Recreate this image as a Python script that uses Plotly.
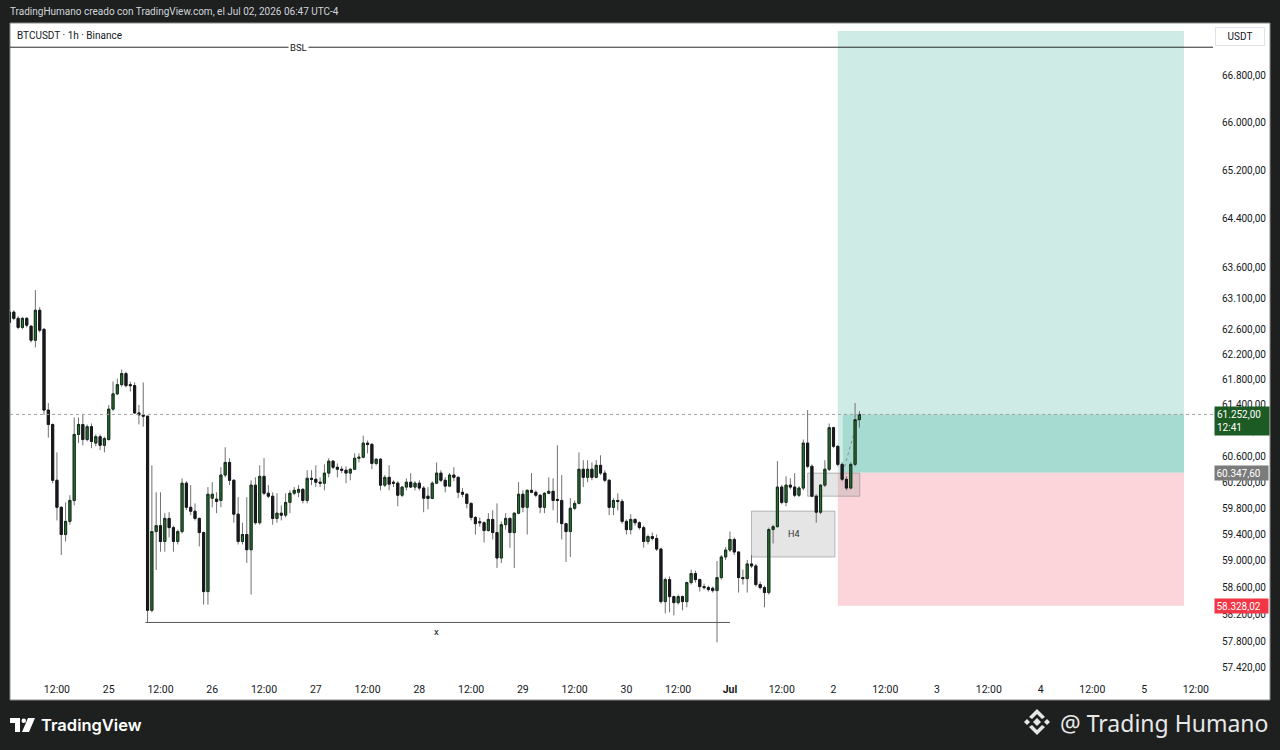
import math
import pandas as pd
import plotly.graph_objects as go

# ---------------- data ----------------
start_time = "2026-06-24 01:00"

O = [62710, 62875, 62775, 62630, 62775, 62650, 62425, 62905, 62600, 61320,
     61095, 60230, 59815, 59400, 59600, 59920, 60940, 61095, 60860, 61060,
     60805, 60905, 60770, 60860, 61335, 61575, 61720, 61895, 61720, 61705,
     61275, 61245, 61225, 58260, 59445, 59535, 59295, 59645, 59505, 59295,
     59445, 60185, 59815, 59755, 59645, 59430, 58540, 59955, 59940, 59920,
     60310, 60505, 60230, 59710, 59295, 59400, 59170, 60155, 59580, 60290,
     60030, 59985, 59645, 59725, 59695, 59890, 60030, 60045, 60090, 59920,
     60260, 60245, 60200, 60185, 60340, 60525, 60430, 60400, 60385, 60340,
     60400, 60570, 60585, 60805, 60785, 60490, 60555, 60155, 60275, 60200,
     60185, 60000, 60125, 60200, 60125, 60185, 60110, 59985, 59950, 60185,
     60340, 60230, 60140, 60310, 60275, 60045, 60015, 59875, 59660, 59595,
     59580, 59460, 59630, 59430, 59045, 59550, 59645, 59430, 59725, 60015,
     59815, 60075, 60045, 60000, 59815, 60030, 60060, 59935, 59920, 59565,
     59445, 59800, 59875, 60400, 60275, 60400, 60275, 60460, 60340, 60230,
     59815, 59920, 59905, 59600, 59475, 59630, 59580, 59505, 59295, 59370,
     59340, 59180, 58390, 58720, 58465, 58375, 58465, 58390, 58675, 58810,
     58720, 58615, 58600, 58590, 58555, 58750, 59060, 59165, 59325, 59135,
     58750, 58735, 58955, 58925, 58645, 58600, 58525, 59475, 59520, 60125,
     59890, 60155, 60125, 60000, 60110, 60805, 60445, 59985, 59740, 60155,
     60400, 61045, 60755, 60475, 60245, 60110, 60475, 61170]

H = [63035, 62905, 62810, 62795, 62795, 62665, 63230, 62955, 62615, 61430,
     61110, 60660, 59830, 59890, 60000, 61205, 61205, 61250, 61095, 61110,
     60940, 60940, 60905, 61400, 61770, 61815, 61960, 61925, 61770, 61755,
     61400, 61755, 61230, 60460, 60045, 60045, 59725, 59740, 59535, 59475,
     60260, 60215, 60155, 59875, 59660, 59445, 60125, 60200, 60045, 60430,
     60740, 60570, 60245, 59970, 59580, 59970, 60230, 60275, 60460, 60570,
     60155, 60045, 60030, 59845, 60030, 60075, 60125, 60155, 60110, 60385,
     60385, 60460, 60275, 60475, 60570, 60540, 60490, 60445, 60445, 60415,
     60645, 60645, 60920, 60845, 60805, 60570, 60570, 60310, 60460, 60230,
     60215, 60140, 60260, 60340, 60215, 60230, 60140, 60125, 60215, 60505,
     60385, 60275, 60340, 60430, 60290, 60110, 60030, 59890, 59680, 59660,
     59600, 59725, 59770, 59875, 59600, 59725, 59660, 59740, 60200, 60075,
     60090, 60340, 60075, 60015, 60045, 60275, 60260, 60770, 60310, 59580,
     59955, 59920, 60660, 60540, 60540, 60505, 60540, 60615, 60385, 60245,
     59955, 60030, 59940, 59630, 59710, 59645, 59600, 59535, 59400, 59430,
     59400, 59200, 58750, 58765, 58480, 58495, 58480, 58690, 58870, 58855,
     58735, 58660, 58630, 58615, 59000, 59090, 59210, 59445, 59355, 59150,
     58870, 59015, 59090, 58955, 58690, 58630, 59505, 59550, 60525, 60155,
     60290, 60260, 60340, 60140, 60860, 61320, 60475, 60015, 60170, 60540,
     61110, 61060, 60770, 60505, 60290, 60505, 61430, 61305]

L = [62695, 62745, 62600, 62600, 62630, 62390, 62310, 62550, 61245, 60890,
     60185, 59615, 59090, 59295, 59550, 59845, 60805, 60770, 60830, 60725,
     60755, 60695, 60660, 60845, 61305, 61555, 61690, 61675, 61610, 61260,
     61095, 61060, 58080, 58230, 58865, 59140, 59140, 59355, 59140, 59250,
     59415, 59770, 59695, 59615, 59220, 58345, 58345, 59815, 59725, 59815,
     60275, 60155, 59580, 59250, 59250, 58970, 58495, 59550, 59550, 60000,
     59955, 59550, 59580, 59615, 59660, 59725, 60000, 59970, 59875, 59875,
     60155, 60125, 60125, 60075, 60275, 60400, 60275, 60340, 60185, 60230,
     60385, 60505, 60570, 60645, 60400, 60460, 60075, 60125, 60075, 60125,
     59830, 59970, 60075, 60110, 60075, 60075, 59740, 59785, 59940, 60170,
     60200, 60045, 60125, 60215, 59955, 59970, 59800, 59615, 59400, 59520,
     59280, 59445, 59325, 58895, 58970, 59475, 59200, 58895, 59710, 59740,
     59400, 60030, 59970, 59725, 59725, 60015, 59770, 59580, 59325, 58985,
     59060, 59770, 59860, 60125, 60200, 60230, 60260, 60310, 60200, 59695,
     59695, 59770, 59565, 59400, 59400, 59535, 59475, 59200, 59250, 59310,
     59150, 58360, 58215, 58230, 58185, 58345, 58260, 58305, 58645, 58675,
     58540, 58570, 58540, 58525, 57785, 58720, 59015, 59135, 59090, 58525,
     58645, 58525, 58895, 58615, 58570, 58305, 58495, 59265, 59505, 59860,
     59830, 60090, 59970, 59970, 60075, 60415, 59970, 59580, 59710, 60125,
     60370, 60725, 60445, 60215, 60075, 60090, 60445, 61045]

C = [62875, 62775, 62630, 62775, 62665, 62425, 62905, 62585, 61320, 61095,
     60230, 59815, 59400, 59600, 59920, 60940, 61095, 60860, 61060, 60830,
     60905, 60770, 60875, 61335, 61575, 61720, 61895, 61705, 61705, 61275,
     61245, 61225, 58260, 59445, 59535, 59295, 59645, 59505, 59295, 59445,
     60185, 59815, 59755, 59645, 59430, 58540, 60015, 60015, 59905, 60310,
     60505, 60230, 59710, 59295, 59400, 59170, 60155, 59580, 60290, 60030,
     59985, 59645, 59725, 59695, 59890, 60030, 60075, 60090, 59920, 60260,
     60245, 60200, 60185, 60340, 60525, 60430, 60400, 60385, 60340, 60400,
     60570, 60585, 60805, 60785, 60490, 60555, 60155, 60275, 60170, 60185,
     60000, 60125, 60200, 60125, 60185, 60110, 59955, 59950, 60185, 60340,
     60230, 60140, 60310, 60275, 60045, 60015, 59875, 59660, 59565, 59580,
     59460, 59630, 59430, 59045, 59550, 59645, 59430, 59725, 60015, 59815,
     60075, 60045, 60000, 59815, 60030, 60060, 59920, 59920, 59565, 59445,
     59800, 59875, 60400, 60275, 60400, 60275, 60460, 60340, 60230, 59815,
     59920, 59905, 59600, 59475, 59630, 59580, 59505, 59295, 59370, 59340,
     59180, 58390, 58720, 58465, 58375, 58465, 58390, 58675, 58810, 58720,
     58615, 58600, 58570, 58555, 58750, 59060, 59165, 59325, 59135, 58750,
     58735, 58955, 58925, 58645, 58600, 58525, 59475, 59520, 60125, 59890,
     60155, 60125, 60000, 60110, 60805, 60445, 59985, 59740, 60155, 60400,
     61045, 60755, 60475, 60245, 60110, 60475, 61170, 61252]

x_tickvals = ["2026-06-24 12:00", "2026-06-25", "2026-06-25 12:00", "2026-06-26",
              "2026-06-26 12:00", "2026-06-27", "2026-06-27 12:00", "2026-06-28",
              "2026-06-28 12:00", "2026-06-29", "2026-06-29 12:00", "2026-06-30",
              "2026-06-30 12:00", "2026-07-01", "2026-07-01 12:00", "2026-07-02",
              "2026-07-02 12:00", "2026-07-03", "2026-07-03 12:00", "2026-07-04",
              "2026-07-04 12:00", "2026-07-05", "2026-07-05 12:00"]
x_ticktext = ["12:00", "25", "12:00", "26", "12:00", "27", "12:00", "28",
              "12:00", "29", "12:00", "30", "12:00", "<b>Jul</b>", "12:00", "2",
              "12:00", "3", "12:00", "4", "12:00", "5", "12:00"]
y_tickvals = [66800, 66000, 65200, 64400, 63600, 63100, 62600, 62200, 61800,
              61400, 61000, 60600, 60200, 59800, 59400, 59000, 58600, 58200,
              57800, 57420]

x_range = ["2026-06-24 01:07", "2026-07-05 15:58"]
y_range = [57305, 67698]

bsl_level = 67280
bsl_label_time = "2026-06-26 20:00"
xline_level = 58080
xline_times = ["2026-06-25 08:30", "2026-07-01 00:00"]
xline_label_time = "2026-06-28 04:00"

entry_price = 60347.60
stop_price = 58328.02
target_price = 67560
pos_times = ["2026-07-02 01:00", "2026-07-05 09:15"]
pos_fill_start = "2026-07-02 02:10"
countdown = "12:41"

h4_times = ["2026-07-01 05:00", "2026-07-02 00:20"]
h4_prices = [59060, 59757]
ob_times = ["2026-07-01 18:00", "2026-07-02 06:05"]
ob_prices = [59985, 60340]

# ---------------- helpers ----------------
W, HGT = 1280, 750
ML, MR, MT, MB = 10, 67, 23, 75
PW, PH = W - ML - MR, HGT - MT - MB


def PX(px):
    return (px - ML) / PW


def PY(py):
    return 1 - (py - MT) / PH


def fmt(v):
    s = f"{v:,.2f}"
    return s.replace(",", "X").replace(".", ",").replace("X", ".")


times = pd.date_range(start_time, periods=len(C), freq="h")
body_hi = [max(o, c) for o, c in zip(O, C)]
body_lo = [min(o, c) for o, c in zip(O, C)]

DARK = "#1e201f"
TXT = "#131722"
WICK = "#707070"
GREEN = "#2a6f32"
GREEN_EDGE = "#14301a"
BLACK = "#16181c"

fig = go.Figure()
fig.add_trace(go.Candlestick(
    x=times, open=O, high=H, low=L, close=C,
    increasing=dict(line=dict(color=WICK, width=1), fillcolor=WICK),
    decreasing=dict(line=dict(color=WICK, width=1), fillcolor=WICK),
    whiskerwidth=0, hoverinfo="skip", showlegend=False))
fig.add_trace(go.Candlestick(
    x=times, open=O, high=body_hi, low=body_lo, close=C,
    increasing=dict(line=dict(color=GREEN_EDGE, width=1), fillcolor=GREEN),
    decreasing=dict(line=dict(color=BLACK, width=1), fillcolor=BLACK),
    whiskerwidth=0, hoverinfo="skip", showlegend=False))

shapes = []
# white chart area (plot + axes)
shapes.append(dict(type="rect", xref="paper", yref="paper",
                   x0=PX(10), x1=PX(1270), y0=PY(700), y1=PY(23),
                   fillcolor="white", line=dict(color="#8a8a8a", width=1),
                   layer="below"))
# position tool
shapes.append(dict(type="rect", xref="x", yref="y", x0=pos_times[0], x1=pos_times[1],
                   y0=entry_price, y1=target_price, fillcolor="#cfebe5",
                   line=dict(width=0), layer="below"))
shapes.append(dict(type="rect", xref="x", yref="y", x0=pos_times[0], x1=pos_times[1],
                   y0=stop_price, y1=entry_price, fillcolor="#fbd5d9",
                   line=dict(width=0), layer="below"))
shapes.append(dict(type="rect", xref="x", yref="y", x0=pos_fill_start, x1=pos_times[1],
                   y0=entry_price, y1=C[-1], fillcolor="#a5dbd1",
                   line=dict(width=0), layer="below"))
# H4 box and small box
shapes.append(dict(type="rect", xref="x", yref="y", x0=h4_times[0], x1=h4_times[1],
                   y0=h4_prices[0], y1=h4_prices[1], fillcolor="rgba(150,150,150,0.25)",
                   line=dict(color="rgba(140,140,140,0.6)", width=1), layer="below"))
shapes.append(dict(type="rect", xref="x", yref="y", x0=ob_times[0], x1=ob_times[1],
                   y0=ob_prices[0], y1=ob_prices[1], fillcolor="rgba(150,150,150,0.25)",
                   line=dict(color="rgba(140,140,140,0.6)", width=1), layer="below"))
# dotted trade line
shapes.append(dict(type="line", xref="x", yref="y", x0=pos_fill_start, x1=str(times[-1]),
                   y0=entry_price, y1=C[-1], line=dict(color="#8a8a8a", width=1, dash="dot"),
                   layer="below"))
# BSL line
shapes.append(dict(type="line", xref="paper", yref="y", x0=0, x1=1,
                   y0=bsl_level, y1=bsl_level, line=dict(color="#2a2a2a", width=1)))
# x line
shapes.append(dict(type="line", xref="x", yref="y", x0=xline_times[0], x1=xline_times[1],
                   y0=xline_level, y1=xline_level, line=dict(color="#555555", width=1)))
# last price dotted line
shapes.append(dict(type="line", xref="paper", yref="y", x0=0, x1=1,
                   y0=C[-1], y1=C[-1], line=dict(color="#a0a0a0", width=1, dash="dot")))

# TradingView logo (bottom left)
shapes.append(dict(type="path", xref="paper", yref="paper",
                   path=f"M{PX(10)},{PY(718)} L{PX(20)},{PY(718)} L{PX(20)},{PY(732)} "
                        f"L{PX(15)},{PY(732)} L{PX(15)},{PY(723)} L{PX(10)},{PY(723)} Z",
                   fillcolor="white", line=dict(width=0)))
shapes.append(dict(type="circle", xref="paper", yref="paper",
                   x0=PX(21.5), x1=PX(26), y0=PY(723), y1=PY(718.5),
                   fillcolor="white", line=dict(width=0)))
shapes.append(dict(type="path", xref="paper", yref="paper",
                   path=f"M{PX(28)},{PY(718)} L{PX(35)},{PY(718)} L{PX(29)},{PY(732)} "
                        f"L{PX(22)},{PY(732)} Z",
                   fillcolor="white", line=dict(width=0)))
# Binance-like logo (bottom right)
cx, cy = 1037, 722


def diamond(x, y, r):
    return (f"M{PX(x)},{PY(y - r)} L{PX(x + r)},{PY(y)} L{PX(x)},{PY(y + r)} "
            f"L{PX(x - r)},{PY(y)} Z")


for (dx, dy, r) in [(0, 0, 4), (-10, 0, 3), (10, 0, 3)]:
    shapes.append(dict(type="path", xref="paper", yref="paper",
                       path=diamond(cx + dx, cy + dy, r), fillcolor="#e6e6e6",
                       line=dict(width=0)))
for sgn in (-1, 1):
    shapes.append(dict(type="path", xref="paper", yref="paper",
                       path=(f"M{PX(cx - 8)},{PY(cy + sgn * 5)} L{PX(cx)},{PY(cy + sgn * 13)} "
                             f"L{PX(cx + 8)},{PY(cy + sgn * 5)} L{PX(cx + 5)},{PY(cy + sgn * 3)} "
                             f"L{PX(cx)},{PY(cy + sgn * 8)} L{PX(cx - 5)},{PY(cy + sgn * 3)} Z"),
                       fillcolor="#e6e6e6", line=dict(width=0)))

ann = []
ann.append(dict(xref="paper", yref="paper", x=PX(8), y=PY(12), xanchor="left",
                yanchor="middle", showarrow=False,
                text="TradingHumano creado con TradingView.com, el Jul 02, 2026 06:47 UTC-4",
                font=dict(family="Roboto", size=10, color="#d1d4dc")))
ann.append(dict(xref="paper", yref="paper", x=PX(15), y=PY(35), xanchor="left",
                yanchor="middle", showarrow=False, text="BTCUSDT · 1h · Binance",
                font=dict(family="Roboto", size=10, color=TXT)))
ann.append(dict(xref="paper", yref="paper", x=PX(1240), y=PY(36), xanchor="center",
                yanchor="middle", showarrow=False, text="USDT", bgcolor="white",
                bordercolor="#e0e3eb", borderwidth=1, borderpad=3, width=42,
                font=dict(family="Roboto", size=10, color=TXT)))
ann.append(dict(xref="x", yref="y", x=bsl_label_time, y=math.log10(bsl_level),
                xanchor="center", yanchor="middle", showarrow=False, text="BSL",
                bgcolor="white", borderpad=1,
                font=dict(family="Roboto", size=9.5, color=TXT)))
ann.append(dict(xref="x", yref="y", x=xline_label_time, y=math.log10(xline_level),
                xanchor="center", yanchor="top", yshift=-2, showarrow=False, text="x",
                font=dict(family="Roboto", size=9.5, color=TXT)))
ann.append(dict(xref="x", yref="y",
                x=str(pd.Timestamp(h4_times[0]) + (pd.Timestamp(h4_times[1]) - pd.Timestamp(h4_times[0])) / 2),
                y=(math.log10(h4_prices[0]) + math.log10(h4_prices[1])) / 2,
                xanchor="center", yanchor="middle", showarrow=False, text="H4",
                font=dict(family="Roboto", size=9, color="#333333")))
# price axis labels
ann.append(dict(xref="paper", yref="y", x=PX(1214), y=math.log10(C[-1]), xanchor="left",
                yanchor="top", yshift=8, showarrow=False, align="left",
                text=f"{fmt(C[-1])}<br>{countdown}", bgcolor="#1d5b24", borderpad=2,
                width=50, font=dict(family="Roboto", size=10, color="white")))
ann.append(dict(xref="paper", yref="y", x=PX(1214), y=math.log10(entry_price), xanchor="left",
                yanchor="middle", showarrow=False, align="left",
                text=fmt(entry_price), bgcolor="#7b7b7b", borderpad=1.5, width=50,
                font=dict(family="Roboto", size=10, color="white")))
ann.append(dict(xref="paper", yref="y", x=PX(1214), y=math.log10(stop_price), xanchor="left",
                yanchor="middle", showarrow=False, align="left",
                text=fmt(stop_price), bgcolor="#f23645", borderpad=1.5, width=50,
                font=dict(family="Roboto", size=10, color="white")))
# watermark texts
ann.append(dict(xref="paper", yref="paper", x=PX(39), y=PY(725), xanchor="left",
                yanchor="middle", showarrow=False, text="TradingView",
                font=dict(family="Inter", size=16.5, color="white", weight=600)))
ann.append(dict(xref="paper", yref="paper", x=PX(1270), y=PY(723), xanchor="right",
                yanchor="middle", showarrow=False, text="@ Trading Humano",
                font=dict(family="Noto Sans", size=23, color="#e8e8e8")))

fig.update_layout(
    width=W, height=HGT,
    margin=dict(l=ML, r=MR, t=MT, b=MB, autoexpand=False),
    paper_bgcolor=DARK, plot_bgcolor="white",
    showlegend=False, shapes=shapes, annotations=ann,
    hovermode=False,
    xaxis=dict(type="date", range=x_range, rangeslider=dict(visible=False),
               tickvals=x_tickvals, ticktext=x_ticktext, showgrid=False,
               zeroline=False, showline=False, ticks="", ticklabelstandoff=6,
               tickfont=dict(family="Roboto", size=10.5, color=TXT), fixedrange=True),
    yaxis=dict(type="log", side="right",
               range=[math.log10(y_range[0]), math.log10(y_range[1])],
               tickvals=y_tickvals, ticktext=[fmt(v) for v in y_tickvals],
               showgrid=False, zeroline=False, showline=False, ticks="",
               ticklabelstandoff=8,
               tickfont=dict(family="Roboto", size=10, color=TXT), fixedrange=True),
)

fig.write_html("out.html", config={"displayModeBar": False},
               post_script="document.body.style.margin='0px';"
                           "document.body.style.background='#1e201f';")
